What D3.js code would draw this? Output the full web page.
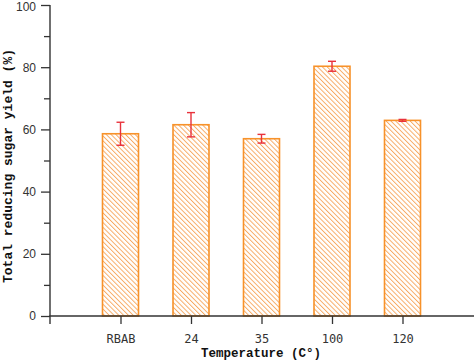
<!DOCTYPE html>
<html><head><meta charset="utf-8">
<script src="https://cdn.jsdelivr.net/npm/d3@7"></script>
<style>body{margin:0;background:#fff}svg{display:block}</style>
</head><body>
<svg id="c" width="474" height="361"></svg>
<script>
const categories = ["RBAB", "24", "35", "100", "120"];
const values = [58.6, 61.5, 57.0, 80.3, 62.9];
const errors = [3.7, 3.9, 1.4, 1.6, 0.3];
const yTicks = [0, 20, 40, 60, 80, 100];
const yMinor = [10, 30, 50, 70, 90];

const svg = d3.select("#c");
const x = d3.scalePoint().domain(categories).range([50, 473]).padding(1);
const y = d3.scaleLinear().domain([0, 100]).range([316, 5]);
const bw = 36;

const defs = svg.append("defs");
const pat = defs.append("pattern").attr("id", "hatch")
  .attr("patternUnits", "userSpaceOnUse").attr("width", 3.4).attr("height", 10)
  .attr("patternTransform", "rotate(-45)");
pat.append("line").attr("x1", 0.5).attr("y1", 0).attr("x2", 0.5).attr("y2", 10)
  .attr("stroke", "#f7a458").attr("stroke-width", 0.9);

// bars
svg.selectAll("rect.bar").data(categories).enter().append("rect")
  .attr("class", "bar")
  .attr("x", d => x(d) - bw / 2)
  .attr("y", (d, i) => y(values[i]))
  .attr("width", bw)
  .attr("height", (d, i) => y(0) - y(values[i]))
  .attr("fill", "url(#hatch)")
  .attr("stroke", "#f7922a").attr("stroke-width", 1.6);

// error bars
const eg = svg.append("g").attr("stroke", "#e8323c").attr("stroke-width", 1.4);
categories.forEach((c, i) => {
  const cx = x(c), t = y(values[i] + errors[i]), b = y(values[i] - errors[i]);
  eg.append("line").attr("x1", cx).attr("x2", cx).attr("y1", t).attr("y2", b);
  eg.append("line").attr("x1", cx - 4).attr("x2", cx + 4).attr("y1", t).attr("y2", t);
  eg.append("line").attr("x1", cx - 4).attr("x2", cx + 4).attr("y1", b).attr("y2", b);
});

// y axis
const yAxis = d3.axisLeft(y).tickValues(yTicks).tickSize(9).tickPadding(5).tickSizeOuter(0);
const gy = svg.append("g").attr("transform", "translate(50,0)").call(yAxis);
gy.select(".domain").remove();
gy.selectAll(".tick line").attr("stroke", "#333").attr("stroke-width", 1.3);
gy.selectAll(".tick text").attr("font-family", "Liberation Sans, Arial, sans-serif").attr("font-size", 12).attr("fill", "#333")
  .attr("dy", (d) => d === 100 ? "0.45em" : "0.32em");
const gym = svg.append("g").attr("transform", "translate(50,0)")
  .call(d3.axisLeft(y).tickValues(yMinor).tickSize(6).tickFormat(""));
gym.select(".domain").remove();
gym.selectAll(".tick line").attr("stroke", "#333").attr("stroke-width", 1.3);
svg.append("line").attr("x1", 50).attr("x2", 50).attr("y1", y(100)).attr("y2", 324)
  .attr("stroke", "#333").attr("stroke-width", 1.4);

// x axis
const xAxis = d3.axisBottom(x).tickSize(8).tickPadding(10).tickSizeOuter(0);
const gx = svg.append("g").attr("transform", "translate(0,316)").call(xAxis);
gx.select(".domain").remove();
gx.selectAll(".tick line").attr("stroke", "#333").attr("stroke-width", 1.3);
gx.selectAll(".tick text").attr("font-family", "DejaVu Sans Mono, monospace").attr("font-size", 12).attr("fill", "#333");
svg.append("line").attr("x1", 49.3).attr("x2", 474).attr("y1", 316).attr("y2", 316)
  .attr("stroke", "#333").attr("stroke-width", 1.4);

// titles
svg.append("text").attr("x", 261).attr("y", 356.5).attr("text-anchor", "middle")
  .attr("font-family", "Liberation Mono, Courier New, monospace").attr("font-weight", "bold")
  .attr("font-size", 12.5).attr("fill", "#111").text("Temperature (C°)");
svg.append("text").attr("transform", "translate(12,166) rotate(-90)").attr("text-anchor", "middle")
  .attr("font-family", "Liberation Mono, Courier New, monospace").attr("font-weight", "bold")
  .attr("font-size", 13).attr("fill", "#111").text("Total reducing sugar yield (%)");
</script>
</body></html>
